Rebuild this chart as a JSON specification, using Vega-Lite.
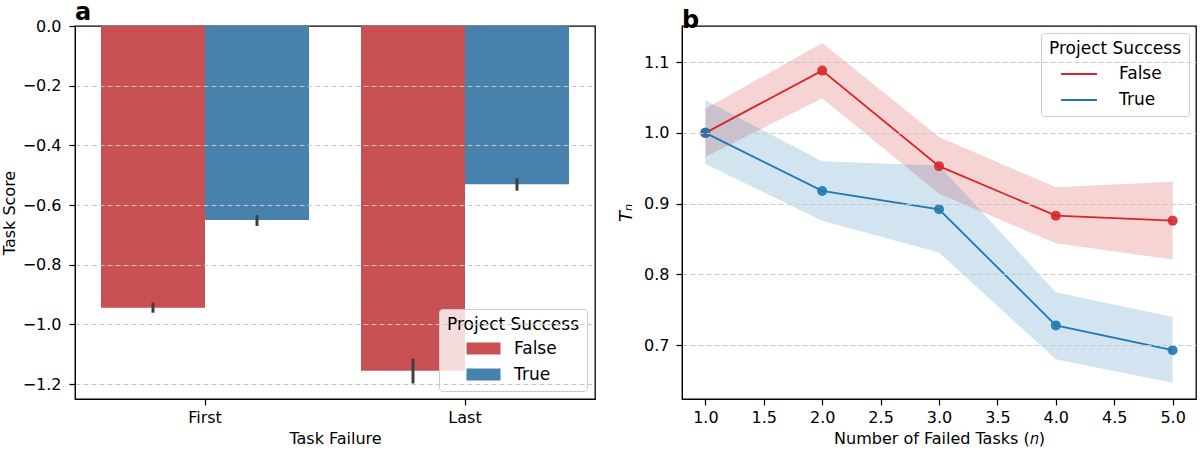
{
  "$schema": "https://vega.github.io/schema/vega-lite/v6.json",
  "background": "#ffffff",
  "padding": 0,
  "spacing": 20,
  "config": {
    "font": "DejaVu Sans",
    "view": {"stroke": "#000000", "strokeWidth": 1.3},
    "axis": {
      "labelFontSize": 16,
      "titleFontSize": 16,
      "labelColor": "#000000",
      "titleColor": "#000000",
      "titleFontWeight": "normal",
      "tickColor": "#000000",
      "domainColor": "#000000",
      "tickSize": 6,
      "tickWidth": 1.2,
      "labelPadding": 5,
      "gridColor": {"condition": {"test": "datum.value === 0", "value": "transparent"}, "value": "#c8c8c8"},
      "gridDash": [5, 3],
      "gridWidth": 1
    },
    "legend": {
      "titleFontSize": 17,
      "labelFontSize": 17,
      "titleFontWeight": "normal",
      "titleColor": "#000000",
      "labelColor": "#000000",
      "fillColor": "rgba(255,255,255,0.8)",
      "strokeColor": "#cccccc",
      "cornerRadius": 3,
      "padding": 8,
      "rowPadding": 8,
      "titlePadding": 6
    },
    "title": {"fontSize": 24, "fontWeight": "bold", "anchor": "start", "frame": "group", "offset": -7, "color": "#000000"}
  },
  "resolve": {"scale": {"color": "independent"}, "legend": {"color": "independent"}},
  "hconcat": [
    {
      "title": "a",
      "width": 520,
      "height": 373,
      "data": {
        "values": [
          {"failure": "First", "success": "False", "score": -0.944, "lo": -0.961, "hi": -0.927},
          {"failure": "First", "success": "True", "score": -0.650, "lo": -0.670, "hi": -0.634},
          {"failure": "Last", "success": "False", "score": -1.155, "lo": -1.198, "hi": -1.115},
          {"failure": "Last", "success": "True", "score": -0.530, "lo": -0.552, "hi": -0.510}
        ]
      },
      "encoding": {
        "x": {
          "field": "failure",
          "type": "nominal",
          "scale": {"paddingInner": 0.2, "paddingOuter": 0.1},
          "axis": {"title": "Task Failure", "labelAngle": 0, "labelPadding": 4, "titlePadding": 5}
        },
        "xOffset": {"field": "success", "type": "nominal", "scale": {"paddingInner": 0, "paddingOuter": 0}}
      },
      "layer": [
        {
          "mark": {"type": "bar"},
          "encoding": {
            "y": {
              "field": "score",
              "type": "quantitative",
              "scale": {"domain": [-1.25, 0], "nice": false},
              "axis": {
                "title": "Task Score",
                "values": [0, -0.2, -0.4, -0.6, -0.8, -1.0, -1.2],
                "format": ".1f",
                "grid": true,
                "zindex": 1,
                "labelPadding": 8,
                "titlePadding": 5
              }
            },
            "color": {
              "field": "success",
              "type": "nominal",
              "scale": {"domain": ["False", "True"], "range": ["#c85052", "#4682ac"]},
              "legend": {
                "title": "Project Success",
                "orient": "bottom-right",
                "offset": 8,
                "symbolType": "M-2,-0.72H2V0.72H-2Z",
                "symbolSize": 289,
                "symbolStrokeWidth": 0,
                "symbolOpacity": 1,
                "symbolOffset": 28,
                "labelOffset": 22
              }
            }
          }
        },
        {
          "mark": {"type": "rule", "color": "#3f3f3f", "strokeWidth": 3},
          "encoding": {
            "y": {"field": "lo", "type": "quantitative"},
            "y2": {"field": "hi"}
          }
        }
      ]
    },
    {
      "title": "b",
      "width": 514,
      "height": 373,
      "data": {
        "values": [
          {"n": 1, "success": "False", "mean": 1.0, "lo": 0.966, "hi": 1.034},
          {"n": 2, "success": "False", "mean": 1.088, "lo": 1.049, "hi": 1.127},
          {"n": 3, "success": "False", "mean": 0.953, "lo": 0.914, "hi": 0.994},
          {"n": 4, "success": "False", "mean": 0.883, "lo": 0.844, "hi": 0.923},
          {"n": 5, "success": "False", "mean": 0.876, "lo": 0.821, "hi": 0.931},
          {"n": 1, "success": "True", "mean": 1.0, "lo": 0.956, "hi": 1.046},
          {"n": 2, "success": "True", "mean": 0.918, "lo": 0.876, "hi": 0.960},
          {"n": 3, "success": "True", "mean": 0.892, "lo": 0.831, "hi": 0.954},
          {"n": 4, "success": "True", "mean": 0.728, "lo": 0.680, "hi": 0.775},
          {"n": 5, "success": "True", "mean": 0.693, "lo": 0.647, "hi": 0.740}
        ]
      },
      "encoding": {
        "x": {
          "field": "n",
          "type": "quantitative",
          "scale": {"domain": [0.8, 5.2], "nice": false, "zero": false},
          "axis": {
            "title": "Number of Failed Tasks (𝑛)",
            "values": [1, 1.5, 2, 2.5, 3, 3.5, 4, 4.5, 5],
            "format": ".1f",
            "grid": false,
            "labelPadding": 4,
            "titlePadding": 5
          }
        },
        "color": {
          "field": "success",
          "type": "nominal",
          "scale": {"domain": ["False", "True"], "range": ["#d62728", "#1f77b4"]},
          "legend": {
            "title": "Project Success",
            "orient": "top-right",
            "offset": 7,
            "symbolType": "M-2,0H2",
            "symbolSize": 324,
            "symbolStrokeWidth": 1.8,
            "symbolOpacity": 1,
            "symbolFillColor": "transparent",
            "symbolOffset": 20,
            "labelOffset": 30
          }
        }
      },
      "layer": [
        {
          "mark": {"type": "area", "opacity": 0.2},
          "encoding": {
            "y": {
              "field": "lo",
              "type": "quantitative",
              "scale": {"domain": [0.624, 1.151], "nice": false, "zero": false},
              "axis": {
                "title": "Tₙ",
                "titleFontStyle": "italic",
                "titleFontSize": 18,
                "values": [0.7, 0.8, 0.9, 1.0, 1.1],
                "format": ".1f",
                "grid": true,
                "zindex": 1,
                "labelPadding": 7,
                "titlePadding": 8
              }
            },
            "y2": {"field": "hi"}
          }
        },
        {
          "mark": {"type": "line", "strokeWidth": 1.8},
          "encoding": {
            "y": {"field": "mean", "type": "quantitative"}
          }
        },
        {
          "mark": {"type": "point", "filled": true, "size": 100, "opacity": 0.9},
          "encoding": {
            "y": {"field": "mean", "type": "quantitative"}
          }
        }
      ]
    }
  ]
}
